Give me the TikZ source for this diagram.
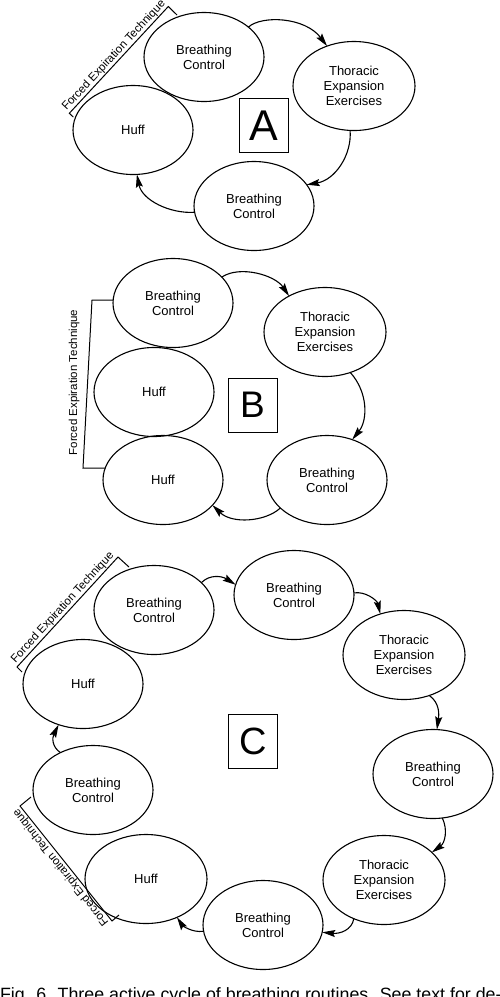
\documentclass[tikz,border=0pt]{standalone}
\usepackage{fontspec}
\setmainfont{Liberation Sans}
\usetikzlibrary{shapes.geometric,arrows.meta}
\newlength{\du}
\setlength{\du}{10pt}
\tikzset{
  stage/.style={ellipse,draw=dialinecolor,line width=0.11\du,inner sep=0pt,outer sep=0pt,
    minimum width=12\du,minimum height=8.9\du,align=center,text=dialinecolor,
    font=\fontsize{13}{15}\selectfont},
  wide stage/.style={stage,minimum width=12.2\du},
  routine/.style={draw=dialinecolor,line width=0.1\du,inner sep=0pt,outer sep=0pt,
    minimum width=4.9\du,minimum height=5.4\du,text=dialinecolor},
  cycle arrow/.style={draw=dialinecolor,line width=0.11\du,-{Stealth[length=13pt,width=7pt,inset=2pt]}},
  fet bracket/.style={draw=dialinecolor,line width=0.1\du},
  fet label/.style={anchor=base,inner sep=0pt,outer sep=0pt,text=dialinecolor,
    font=\fontsize{11.5}{13}\selectfont}
}
\begin{document}
\begin{tikzpicture}[even odd rule]
\pgftransformxscale{1.000000}
\pgftransformyscale{-1.000000}
\definecolor{dialinecolor}{rgb}{0.000000, 0.000000, 0.000000}
\pgfsetstrokecolor{dialinecolor}
\definecolor{diafillcolor}{rgb}{1.000000, 1.000000, 1.000000}
\pgfsetfillcolor{diafillcolor}
\pgfsetlinewidth{0.100000\du}
\path[use as bounding box,fill=diafillcolor] (0.000000\du,0.000000\du) rectangle (50.000000\du,99.700000\du);
% routine A
\node[stage] (bcA1) at (20.400000\du,5.700000\du){Breathing\\Control};
\node[wide stage] (thA) at (35.400000\du,8.600000\du){Thoracic\\Expansion\\Exercises};
\node[stage] (huffA) at (13.300000\du,13.000000\du){Huff};
\node[stage] (bcA2) at (25.400000\du,20.600000\du){Breathing\\Control};
\node[routine,font=\fontsize{43}{43}\selectfont] (boxA) at (26.400000\du,12.550000\du){A};
\draw[cycle arrow] (bcA1.34) .. controls (26.200000\du,1.500000\du) and (30.500000\du,1.700000\du) .. (thA.124);
\draw[cycle arrow] (thA.265) .. controls (35.200000\du,15.500000\du) and (33.500000\du,18.000000\du) .. (bcA2.22);
\draw[cycle arrow] (bcA2.186) .. controls (17.000000\du,21.400000\du) and (14.200000\du,20.000000\du) .. (huffA.275);
\draw[fet bracket] (7.340000\du,11.710000\du)--(6.930000\du,11.330000\du)--(16.830000\du,0.650000\du)--(17.700000\du,1.500000\du);
\node[fet label,rotate=47.2] (fetA) at (11.620000\du,5.750000\du){Forced Expiration Technique};
% routine B
\node[stage] (bcB1) at (17.300000\du,30.300000\du){Breathing\\Control};
\node[wide stage] (thB) at (32.500000\du,33.200000\du){Thoracic\\Expansion\\Exercises};
\node[stage] (huffB1) at (15.400000\du,39.200000\du){Huff};
\node[stage] (huffB2) at (16.300000\du,48.000000\du){Huff};
\node[stage] (bcB2) at (32.700000\du,48.000000\du){Breathing\\Control};
\node[routine,font=\fontsize{37}{37}\selectfont] (boxB) at (25.250000\du,40.500000\du){B};
\draw[cycle arrow] (bcB1.28) .. controls (24.000000\du,26.500000\du) and (27.500000\du,27.500000\du) .. (thB.135);
\draw[cycle arrow] (thB.302) .. controls (36.800000\du,39.200000\du) and (36.800000\du,42.000000\du) .. (bcB2.58);
\draw[cycle arrow] (bcB2.211) .. controls (26.500000\du,52.200000\du) and (23.200000\du,52.400000\du) .. (huffB2.333);
\draw[fet bracket] (11.300000\du,30.000000\du)--(9.200000\du,30.000000\du)--(8.300000\du,46.800000\du)--(10.500000\du,46.800000\du);
\node[fet label,rotate=90] (fetB) at (7.700000\du,38.250000\du){Forced Expiration Technique};
% routine C
\node[stage] (bcC1) at (15.400000\du,61.000000\du){Breathing\\Control};
\node[stage] (bcC2) at (29.400000\du,59.500000\du){Breathing\\Control};
\node[wide stage] (thC1) at (40.400000\du,65.500000\du){Thoracic\\Expansion\\Exercises};
\node[stage] (huffC1) at (8.300000\du,68.400000\du){Huff};
\node[routine,font=\fontsize{38}{38}\selectfont] (boxC) at (25.300000\du,74.100000\du){C};
\node[stage] (bcC3) at (43.300000\du,77.400000\du){Breathing\\Control};
\node[stage] (bcC4) at (9.300000\du,79.000000\du){Breathing\\Control};
\node[wide stage] (huffC2) at (14.600000\du,87.900000\du){Huff};
\node[wide stage] (thC2) at (38.400000\du,88.000000\du){Thoracic\\Expansion\\Exercises};
\node[stage] (bcC5) at (26.300000\du,92.500000\du){Breathing\\Control};
\draw[cycle arrow] (bcC1.30) .. controls (21.000000\du,57.400000\du) and (22.200000\du,57.600000\du) .. (bcC2.170);
\draw[cycle arrow] (bcC2.2) .. controls (36.500000\du,59.100000\du) and (37.700000\du,60.000000\du) .. (thC1.120);
\draw[cycle arrow] (thC1.302) .. controls (44.000000\du,70.300000\du) and (43.900000\du,71.500000\du) .. (bcC3.85);
\draw[cycle arrow] (bcC3.282) .. controls (44.800000\du,83.000000\du) and (44.500000\du,84.300000\du) .. (thC2.30);
\draw[cycle arrow] (thC2.232) .. controls (35.200000\du,93.000000\du) and (34.000000\du,93.400000\du) .. (bcC5.353);
\draw[cycle arrow] (bcC5.186) .. controls (19.200000\du,93.300000\du) and (18.200000\du,92.500000\du) .. (huffC2.309);
\draw[cycle arrow] (bcC4.131) .. controls (5.200000\du,74.700000\du) and (5.200000\du,73.800000\du) .. (huffC1.239);
\draw[fet bracket] (2.200000\du,67.200000\du)--(1.700000\du,66.700000\du)--(11.800000\du,55.700000\du)--(12.900000\du,56.700000\du);
\node[fet label,rotate=47.4] (fetC1) at (6.490000\du,60.960000\du){Forced Expiration Technique};
\draw[fet bracket] (3.100000\du,79.700000\du)--(2.000000\du,80.600000\du)--(11.200000\du,92.100000\du)--(11.900000\du,91.500000\du);
\node[fet label,rotate=128.7] (fetC2) at (6.330000\du,86.570000\du){Forced Expiration Technique};
% setfont left to latex
\node[anchor=base west,inner sep=0pt,outer sep=0pt,text=dialinecolor,font=\fontsize{17.8}{20}\selectfont] (caption) at (0.000000\du,100.000000\du){Fig. 6. Three active cycle of breathing routines. See text for de-};
\end{tikzpicture}
\end{document}
